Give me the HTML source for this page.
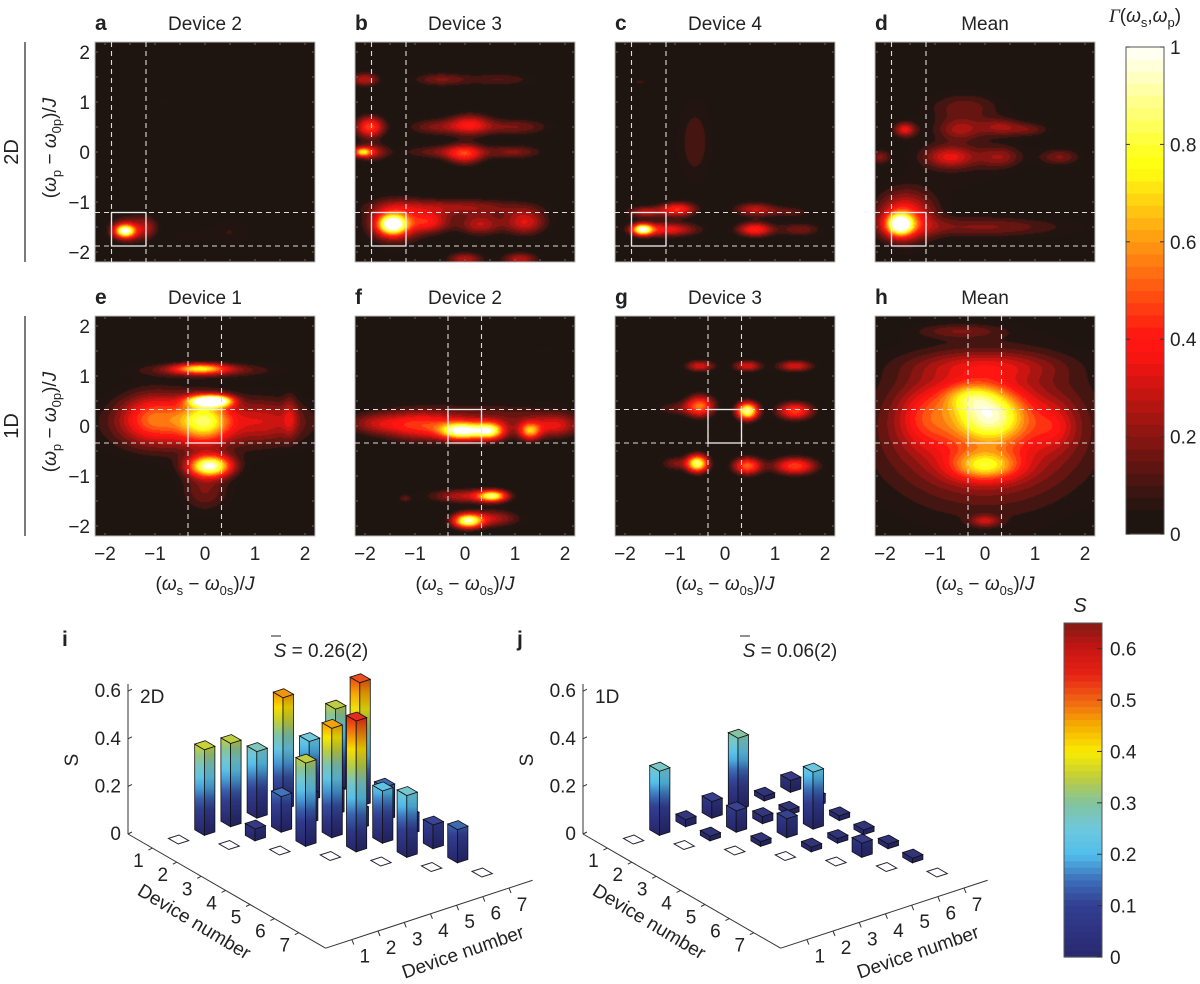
<!DOCTYPE html>
<html><head><meta charset="utf-8"><style>
html,body{margin:0;padding:0;background:#fff;}
#wrap{position:relative;width:1200px;height:984px;overflow:hidden;font-family:"Liberation Sans",Arial,sans-serif;}
canvas{position:absolute;}
svg{position:absolute;left:0;top:0;}
text{font-family:"Liberation Sans",Arial,sans-serif;fill:#222;}
</style></head><body>
<div id="wrap">
<canvas id="cv0" width="220" height="220" style="left:95px;top:42px"></canvas>
<canvas id="cv1" width="220" height="220" style="left:355px;top:42px"></canvas>
<canvas id="cv2" width="220" height="220" style="left:615px;top:42px"></canvas>
<canvas id="cv3" width="220" height="220" style="left:875px;top:42px"></canvas>
<canvas id="cv4" width="220" height="220" style="left:95px;top:316px"></canvas>
<canvas id="cv5" width="220" height="220" style="left:355px;top:316px"></canvas>
<canvas id="cv6" width="220" height="220" style="left:615px;top:316px"></canvas>
<canvas id="cv7" width="220" height="220" style="left:875px;top:316px"></canvas>
<svg id="svg" width="1200" height="984" xmlns="http://www.w3.org/2000/svg"></svg>
</div>
<script>
// ---------- heatmap data: blobs [x, y, sigmaX, sigmaY, amplitude] ----------
const blobsA=[[-1.6,-1.58,.14,.09,.85],[-1.5,-1.55,.3,.2,.25],[-1.15,-1.5,.15,.15,.15],[0.5,-1.6,.3,.2,.1],[-0.3,-1.7,.3,.12,.08],[-0.8,1.0,.08,.05,.08],[-0.4,-0.1,.1,.05,.06]];
const blobsB=[[-1.45,-1.45,.2,.14,.9],[-1.4,-1.4,.4,.3,.35],[-0.7,-1.4,.3,.15,.35],[0.3,-1.45,.3,.15,.3],[1.2,-1.4,.3,.18,.35],[-0.2,-1.1,1.0,.12,.25],[0,-2.15,.25,.1,.3],[1.1,-2.15,.25,.1,.3],[-2.05,0,.12,.06,.55],[-1.9,0,.25,.12,.3],[0,-0.05,.25,.15,.35],[-0.4,0,.6,.1,.2],[1.0,0,.4,.1,.2],[-1.9,0.5,.2,.15,.5],[0.1,0.55,.3,.15,.35],[-0.6,0.5,.4,.12,.2],[1.0,0.5,.5,.12,.2],[-2.0,1.45,.2,.1,.3],[-0.5,1.45,.4,.1,.2],[0.7,1.45,.5,.1,.15]];
const blobsC=[[-1.65,-1.55,.14,.08,.85],[-1.2,-1.55,.45,.1,.4],[0.6,-1.55,.25,.1,.45],[1.5,-1.55,.3,.1,.2],[-1.6,-1.2,.25,.08,.3],[-0.95,-1.15,.25,.1,.45],[0.6,-1.15,.3,.1,.3],[1.3,-1.2,.3,.08,.15],[-0.6,0.2,.25,.6,.14],[-1.7,1.4,.1,.05,.12]];
const blobsD=[[-1.7,-1.45,.18,.15,.85],[-1.6,-1.3,.4,.35,.45],[0,-1.5,1.2,.15,.2],[-0.7,-0.1,.35,.15,.3],[0.3,-0.1,.3,.15,.2],[1.5,-0.1,.3,.12,.2],[-1.6,0.45,.15,.1,.35],[-0.5,0.45,.3,.15,.2],[0.3,0.5,.3,.12,.2],[0.9,0.45,.3,.1,.15],[-0.4,0.9,.5,.2,.15],[-2.1,-0.1,.15,.1,.2],[-0.5,0.0,.9,.7,.08]];
const blobsE=[[-0.1,1.15,.35,.07,.55],[0,1.12,.9,.1,.25],[0,0.5,.25,.08,.8],[0.3,0.5,.2,.08,.6],[0,0.1,.35,.3,.65],[-1.0,0.15,.5,.35,.45],[1.2,0.1,.6,.3,.25],[0.1,-0.8,.3,.15,.95],[0,-1.3,.35,.3,.2],[-0.2,0,1.5,.45,.15],[1.7,0.2,.1,.3,.15]];
const blobsF=[[-0.05,-0.1,.3,.12,.9],[0.5,-0.1,.2,.12,.7],[1.3,-0.1,.15,.12,.55],[-0.9,0,.5,.2,.35],[-1.8,0.05,.4,.15,.2],[1.8,0,.3,.15,.25],[0.5,0.1,1.5,.25,.2],[0.55,-1.4,.2,.08,.75],[0.0,-1.4,.5,.1,.3],[-1.2,-1.45,.1,.06,.15],[0.05,-1.9,.2,.1,.85],[0.5,-1.85,.4,.12,.3],[1.6,1.5,.15,.04,.08]];
const blobsG=[[0.45,0.3,.15,.12,.95],[-0.5,0.4,.2,.15,.55],[1.4,0.3,.25,.12,.5],[-1.0,0.35,.3,.1,.15],[-0.55,-0.75,.15,.12,.9],[0.45,-0.8,.2,.12,.55],[1.4,-0.8,.3,.12,.5],[-1.0,-0.75,.2,.1,.2],[-0.5,1.2,.2,.08,.35],[0.45,1.2,.2,.08,.35],[1.4,1.2,.25,.08,.35]];
const blobsH=[[0,-0.1,1.4,1.0,.45],[0.1,0.2,.5,.35,.55],[0,-0.8,.45,.2,.45],[-0.3,0.6,.4,.2,.3],[0,1.2,1.0,.2,.2],[0,-1.9,.2,.08,.25],[1.4,0,.3,.3,.15],[-1.2,0.2,.4,.4,.2],[-0.5,1.9,.6,.1,.15]];
const heatBlobs=[blobsA,blobsB,blobsC,blobsD,blobsE,blobsF,blobsG,blobsH];
const panelLetters=['a','b','c','d','e','f','g','h'];
const panelTitles=['Device 2','Device 3','Device 4','Mean','Device 1','Device 2','Device 3','Mean'];
const axisTicks=[-2,-1,0,1,2];
const boxes2D=[-1.87,-1.18,-1.88,-1.21]; // x0,x1,y0,y1
const boxes1D=[-0.34,0.33,-0.34,0.33];
const gammaTicks=[0,0.2,0.4,0.6,0.8,1];
const sTicks=[0,0.1,0.2,0.3,0.4,0.5,0.6];
// ---------- bar data (upper triangle, rows device i, cols device j) ----------
const s2D=[
 [0,0.36,0.35,0.28,0.47,0.25,0.35],
 [0,0,0.05,0.15,0.12,0.10,0.52],
 [0,0,0,0.35,0.46,0.08,0.14],
 [0,0,0,0,0.55,0.22,0.08],
 [0,0,0,0,0,0.26,0.10],
 [0,0,0,0,0,0,0.14],
 [0,0,0,0,0,0,0]];
const s1D=[
 [0,0.27,0.03,0.07,0.30,0.02,0.05],
 [0,0,0.02,0.09,0.03,0.02,0.04],
 [0,0,0,0.02,0.08,0.24,0.02],
 [0,0,0,0,0.02,0.02,0.02],
 [0,0,0,0,0,0.06,0.02],
 [0,0,0,0,0,0,0.02],
 [0,0,0,0,0,0,0]];
const zTicks=[0,0.2,0.4,0.6];
const deviceNums=[1,2,3,4,5,6,7];

const NS='http://www.w3.org/2000/svg';
const svg=document.getElementById('svg');
function el(tag,attrs,parent,txt){const e=document.createElementNS(NS,tag);for(const k in attrs)e.setAttribute(k,attrs[k]);if(txt!==undefined)e.textContent=txt;(parent||svg).appendChild(e);return e;}

function hot(v){v=Math.max(0,Math.min(1,v));const r=Math.min(1,v/0.375),g=Math.max(0,Math.min(1,(v-0.375)/0.375)),b=Math.max(0,(v-0.75)/0.25);
 return [Math.max(30,r*255),Math.max(21,g*255),Math.max(17,b*255)];}
const jetStops=[[0,40,40,110],[0.1,50,62,145],[0.15,60,110,185],[0.2,80,190,235],[0.25,110,200,222],[0.3,130,195,160],[0.35,190,205,60],[0.4,250,235,0],[0.45,245,175,0],[0.5,240,100,20],[0.55,230,35,20],[0.6,200,22,20],[0.65,130,25,20]];
function jet(v){v=Math.max(0,Math.min(0.65,v));for(let k=1;k<jetStops.length;k++){if(v<=jetStops[k][0]){const a=jetStops[k-1],b=jetStops[k],t=(v-a[0])/(b[0]-a[0]);return [a[1]+(b[1]-a[1])*t,a[2]+(b[2]-a[2])*t,a[3]+(b[3]-a[3])*t];}}return [130,25,20];}
function rgb(c){return 'rgb('+Math.round(c[0])+','+Math.round(c[1])+','+Math.round(c[2])+')';}

const panelX=[95,355,615,875],rowY=[42,316],PS=220;
function xs(p,v){return panelX[p%4]+(v+2.2)/4.4*PS;}
function ys(p,v){return rowY[Math.floor(p/4)]+(2.2-v)/4.4*PS;}

// ---------- heatmaps ----------
heatBlobs.forEach((blobs,p)=>{
 const cv=document.getElementById('cv'+p),ctx=cv.getContext('2d'),img=ctx.createImageData(PS,PS);
 for(let py=0;py<PS;py++)for(let px=0;px<PS;px++){
  const x=-2.2+(px+0.5)/PS*4.4,y=2.2-(py+0.5)/PS*4.4;let v=0;
  for(const b of blobs){const dx=(x-b[0])/b[2],dy=(y-b[1])/b[3];v+=b[4]*Math.exp(-0.5*(dx*dx+dy*dy));}
  v=Math.floor(Math.min(1,v)*20)/20;const c=hot(v),i=(py*PS+px)*4;
  img.data[i]=c[0];img.data[i+1]=c[1];img.data[i+2]=c[2];img.data[i+3]=255;}
 ctx.putImageData(img,0,0);
 const X0=panelX[p%4],Y0=rowY[Math.floor(p/4)];
 const g=el('g',{});
 
 
 el('rect',{x:X0,y:Y0,width:PS,height:PS,fill:'none',stroke:'#bbb','stroke-width':1},g);
 for(let t=-2;t<=2.01;t+=0.5){
  const tx=xs(p,t),ty=ys(p,t);
  el('line',{x1:tx,y1:Y0+PS,x2:tx,y2:Y0+PS-3,stroke:'#666','stroke-width':1},g);
  el('line',{x1:tx,y1:Y0,x2:tx,y2:Y0+3,stroke:'#666','stroke-width':1},g);
  el('line',{x1:X0,y1:ty,x2:X0+3,y2:ty,stroke:'#666','stroke-width':1},g);
  el('line',{x1:X0+PS,y1:ty,x2:X0+PS-3,y2:ty,stroke:'#666','stroke-width':1},g);}
 const bx=p<4?boxes2D:boxes1D;
 const dash={stroke:'#ddd','stroke-width':1.1,'stroke-dasharray':'5,4'};
 [bx[0],bx[1]].forEach(v=>{const l=el('line',Object.assign({x1:xs(p,v),x2:xs(p,v),y1:Y0,y2:Y0+PS},dash),g);});
 [bx[2],bx[3]].forEach(v=>{const l=el('line',Object.assign({y1:ys(p,v),y2:ys(p,v),x1:X0,x2:X0+PS},dash),g);});
 const r=el('rect',{x:xs(p,bx[0]),y:ys(p,bx[3]),width:xs(p,bx[1])-xs(p,bx[0]),height:ys(p,bx[2])-ys(p,bx[3]),fill:'none',stroke:'#eee','stroke-width':1.3},g);
 
 const lt=el('text',{x:X0,y:Y0-12,'font-size':21,'font-weight':'bold'},g,panelLetters[p]);
 
 const tt=el('text',{x:X0+110,y:Y0-12,'font-size':19,'text-anchor':'middle'},g,panelTitles[p]);
 
 if(p%4===0){axisTicks.forEach(t=>{const e=el('text',{x:X0-5,y:ys(p,t)+7,'font-size':19,'text-anchor':'end'},g,t<0?'\u2212'+(-t):String(t));});}
 if(p>=4){axisTicks.forEach(t=>{const e=el('text',{x:xs(p,t),y:Y0+PS+24,'font-size':19,'text-anchor':'middle'},g,t<0?'\u2212'+(-t):String(t));});
  const xt=el('text',{x:X0+110,y:Y0+PS+54,'font-size':19,'text-anchor':'middle'},g);
  
  xt.innerHTML='(<tspan font-style="italic">ω</tspan><tspan font-size="13" dy="5">s</tspan><tspan dy="-5"> − </tspan><tspan font-style="italic">ω</tspan><tspan font-size="13" dy="5">0s</tspan><tspan dy="-5">)/</tspan><tspan font-style="italic">J</tspan>';}
});
[0,1].forEach(r=>{
 const cy=rowY[r]+110;
 const l=el('line',{x1:25,x2:25,y1:rowY[r],y2:rowY[r]+PS,stroke:'#222','stroke-width':1.2});
 
 const t=el('text',{x:0,y:0,'font-size':20,'text-anchor':'middle',transform:'translate(18,'+cy+') rotate(-90)'},svg,r===0?'2D':'1D');
 
 const yt=el('text',{x:0,y:0,'font-size':19,'text-anchor':'middle',transform:'translate(56,'+(cy-4)+') rotate(-90)'});
 
 yt.innerHTML='(<tspan font-style="italic">ω</tspan><tspan font-size="13" dy="5">p</tspan><tspan dy="-5"> − </tspan><tspan font-style="italic">ω</tspan><tspan font-size="13" dy="5">0p</tspan><tspan dy="-5">)/</tspan><tspan font-style="italic">J</tspan>';
});

// ---------- Gamma colorbar ----------
(function(){const x=1126,w=38,top=47,bot=534,g=el('g',{});
 
 
 const N=40;for(let k=0;k<N;k++){const v0=k/N,y1=bot-(k+1)/N*(bot-top);el('rect',{x:x,y:y1,width:w,height:(bot-top)/N+0.6,fill:rgb(hot(v0+0.5/N))},g);}
 el('rect',{x:x,y:top,width:w,height:bot-top,fill:'none',stroke:'#555','stroke-width':1},g);
 gammaTicks.forEach(t=>{const y=bot-t*(bot-top);el('line',{x1:x,x2:x+4,y1:y,y2:y,stroke:'#333'},g);el('line',{x1:x+w,x2:x+w-4,y1:y,y2:y,stroke:'#333'},g);
  const e=el('text',{x:x+w+6,y:y+7,'font-size':19},g,String(t));});
 const lab=el('text',{x:1145,y:22,'font-size':19,'text-anchor':'middle'},g);
 
 lab.innerHTML='<tspan font-family="Liberation Serif" font-style="italic">Γ</tspan>(<tspan font-style="italic">ω</tspan><tspan font-size="13" dy="5">s</tspan><tspan dy="-5">,</tspan><tspan font-style="italic">ω</tspan><tspan font-size="13" dy="5">p</tspan><tspan dy="-5">)</tspan>';
})();
// ---------- S colorbar ----------
(function(){const x=1064,w=38,top=623,bot=957,max=0.65,g=el('g',{});
 
 
 const N=52;for(let k=0;k<N;k++){const v=(k+0.5)/N*max,y1=bot-(k+1)/N*(bot-top);el('rect',{x:x,y:y1,width:w,height:(bot-top)/N+0.6,fill:rgb(jet(v))},g);}
 el('rect',{x:x,y:top,width:w,height:bot-top,fill:'none',stroke:'#555','stroke-width':1},g);
 sTicks.forEach(t=>{const y=bot-t/max*(bot-top);el('line',{x1:x+w,x2:x+w-5,y1:y,y2:y,stroke:'#333'},g);
  const e=el('text',{x:x+w+8,y:y+7,'font-size':19},g,String(t));});
 const s=el('text',{x:1080,y:612,'font-size':20,'font-style':'italic','text-anchor':'middle'},g,'S');
 
})();

// ---------- 3D bar charts ----------
let gradId=0;
function bars3D(data,off,letter,tag,mean){
 const g=el('g',{});
 
 
 const ZS=238,BY=834;
 const P=(a,b,z)=>[128+off+24.4*a+26.2*b,BY+14.1*a-8.6*b-ZS*z];
 const pts=arr=>arr.map(q=>q[0].toFixed(1)+','+q[1].toFixed(1)).join(' ');
 const o=P(0,0,0),fc=P(8.1,0,0),rc=P(8.1,7.9,0),zt=P(0,0,0.63);
 el('line',{x1:o[0],y1:o[1],x2:zt[0],y2:zt[1],stroke:'#333','stroke-width':1},g);
 el('line',{x1:o[0],y1:o[1],x2:fc[0],y2:fc[1],stroke:'#333','stroke-width':1},g);
 el('line',{x1:fc[0],y1:fc[1],x2:rc[0],y2:rc[1],stroke:'#333','stroke-width':1},g);
 zTicks.forEach(t=>{const q=P(0,0,t);el('line',{x1:q[0],x2:q[0]+4,y1:q[1],y2:q[1]-2,stroke:'#333'},g);
  const e=el('text',{x:q[0]-7,y:q[1]+6,'font-size':19,'text-anchor':'end'},g,String(t));});
 deviceNums.forEach(n=>{let q=P(n,0,0);el('line',{x1:q[0],y1:q[1],x2:q[0]-4,y2:q[1]+2,stroke:'#333'},g);
  let e=el('text',{x:q[0]-14,y:q[1]+19,'font-size':19,'text-anchor':'middle'},g,String(n));
  q=P(8.1,n,0);el('line',{x1:q[0],y1:q[1],x2:q[0]+2,y2:q[1]+5,stroke:'#333'},g);
  e=el('text',{x:q[0]+13,y:q[1]+23,'font-size':19,'text-anchor':'middle'},g,String(n));});
 let e=el('text',{x:0,y:0,'font-size':19,'text-anchor':'middle',transform:'translate('+(191+off)+',927) rotate(31)'},g,'Device number');
 e=el('text',{x:0,y:0,'font-size':19,'text-anchor':'middle',transform:'translate('+(465+off)+',958) rotate(-19)'},g,'Device number');
 e=el('text',{x:0,y:0,'font-size':19,'text-anchor':'middle',transform:'translate('+(78+off)+',760) rotate(-90)'},g,'S');
 e=el('text',{x:140+off,y:703,'font-size':19},g,tag);
 e=el('text',{x:62+off,y:646,'font-size':21,'font-weight':'bold'},g,letter);
 const tx=321+off+(off?14:0);
 const tt=el('text',{x:tx,y:657,'font-size':19,'text-anchor':'middle'},g);
 
 tt.innerHTML='<tspan font-style="italic">S</tspan> = '+mean;
 el('line',{x1:tx-50,x2:tx-40,y1:636,y2:636,stroke:'#222','stroke-width':1},g);
 const items=[];const w=0.2;
 for(let i=1;i<=7;i++)for(let j=1;j<=7;j++){
  if(i===j)items.push({i,j,diag:true});
  else if(i<j&&data[i-1][j-1]>0)items.push({i,j,s:data[i-1][j-1]});}
 items.sort((A,B)=>(14.1*A.i-8.6*A.j)-(14.1*B.i-8.6*B.j));
 items.forEach(it=>{const i=it.i,j=it.j;
  if(it.diag){const d=el('polygon',{points:pts([P(i-w,j-w,0),P(i+w,j-w,0),P(i+w,j+w,0),P(i-w,j+w,0)]),fill:'#fff',stroke:'#223','stroke-width':1},g);
   return;}
  const s=it.s,bg=el('g',{},g);
  
  
  const id='gr'+(gradId++),b0=P(i,j,0),b1=P(i,j,s);
  const gr=el('linearGradient',{id:id,gradientUnits:'userSpaceOnUse',x1:0,x2:0,y1:b0[1],y2:b1[1]},bg);
  for(let k=0;k<=8;k++)el('stop',{offset:k/8,'stop-color':rgb(jet(s*k/8))},gr);
  const L=[P(i-w,j-w,0),P(i+w,j-w,0),P(i+w,j-w,s),P(i-w,j-w,s)];
  const R=[P(i+w,j-w,0),P(i+w,j+w,0),P(i+w,j+w,s),P(i+w,j-w,s)];
  const T=[P(i-w,j-w,s),P(i+w,j-w,s),P(i+w,j+w,s),P(i-w,j+w,s)];
  el('polygon',{points:pts(L),fill:'url(#'+id+')',stroke:'#111','stroke-width':0.8},bg);
  el('polygon',{points:pts(R),fill:'url(#'+id+')',stroke:'#111','stroke-width':0.8},bg);
  el('polygon',{points:pts(R),fill:'#000','fill-opacity':0.12,stroke:'none'},bg);
  const c=jet(s);el('polygon',{points:pts(T),fill:rgb([c[0]*0.95+10,c[1]*0.95+10,c[2]*0.95+10]),stroke:'#111','stroke-width':0.8},bg);
 });
}
bars3D(s2D,0,'i','2D','0.26(2)');
bars3D(s1D,455,'j','1D','0.06(2)');
</script>
</body></html>
